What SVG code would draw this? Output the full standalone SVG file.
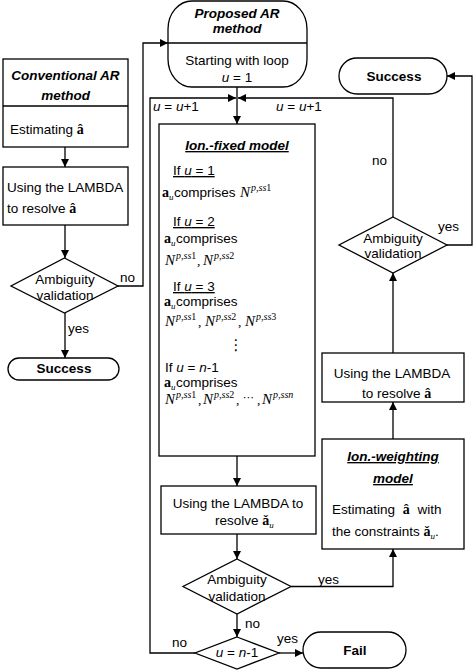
<svg xmlns="http://www.w3.org/2000/svg" width="474" height="670" viewBox="0 0 474 670">
<defs>
<marker id="ah" viewBox="0 0 10 10" refX="10" refY="5" markerWidth="9" markerHeight="8" markerUnits="userSpaceOnUse" orient="auto"><path d="M0,0 L10,5 L0,10 z" fill="#000"/></marker>
</defs>
<style>
.s{fill:#fff;stroke:#000;stroke-width:1.3}
.c{fill:none;stroke:#000;stroke-width:1.3;marker-end:url(#ah)}
text{font-family:"Liberation Sans",Arial,sans-serif;font-size:13.5px;fill:#000}
.b{font-weight:bold}
.bi{font-weight:bold;font-style:italic}
.u{text-decoration:underline}
.mid{text-anchor:middle}
.m{font-family:"Liberation Serif","Times New Roman",serif}
.mb{font-family:"Liberation Serif","Times New Roman",serif;font-weight:bold;font-size:14px}
.mi{font-family:"Liberation Serif","Times New Roman",serif;font-style:italic;font-size:15px}
.sup{font-family:"Liberation Serif","Times New Roman",serif;font-style:italic;font-size:10px}
.sub{font-family:"Liberation Serif","Times New Roman",serif;font-style:italic;font-size:9px}
</style>
<rect width="474" height="670" fill="#fff"/>

<g id="connectors">
<path class="c" d="M65,147 V167"/>
<path class="c" d="M65,225 V258"/>
<path class="c" d="M65,313 V358"/>
<path class="c" d="M118,286 H143 V43 H168"/>
<path class="c" d="M237,87 V124"/>
<path class="c" d="M195,653 H150 V98 H236"/>
<path class="c" d="M393,217 V98 H238"/>
<path class="c" d="M237,456 V486"/>
<path class="c" d="M237,534 V559"/>
<path class="c" d="M237,614 V637"/>
<path class="c" d="M279,653 H303"/>
<path class="c" d="M291,586.5 H393 V549"/>
<path class="c" d="M393,439 V402"/>
<path class="c" d="M393,353 V273"/>
<path class="c" d="M447,245 H472 V76 H447"/>
<text x="120" y="282">no</text>
<text x="68" y="333">yes</text>
<text x="153" y="111"><tspan font-style="italic">u</tspan> = <tspan font-style="italic">u</tspan>+1</text>
<text x="276" y="111"><tspan font-style="italic">u</tspan> = <tspan font-style="italic">u</tspan>+1</text>
<text x="372" y="165">no</text>
<text x="438" y="231">yes</text>
<text x="318" y="584">yes</text>
<text x="245" y="628">no</text>
<text x="172" y="647">no</text>
<text x="277" y="643">yes</text>
</g>

<g id="conventional">
<rect class="s" x="3" y="59" width="125" height="88"/>
<line x1="3" y1="106" x2="128" y2="106" stroke="#000" stroke-width="1.3"/>
<text class="bi mid" x="65.5" y="80">Conventional AR</text>
<text class="bi mid" x="65.5" y="100">method</text>
<text x="10" y="134">Estimating <tspan class="mb">â</tspan></text>
</g>

<g id="lambda1">
<rect class="s" x="3" y="167" width="125" height="58"/>
<text x="7" y="192">Using the LAMBDA</text>
<text x="7" y="213">to resolve <tspan class="mb">â</tspan></text>
</g>

<g id="valid1">
<polygon class="s" points="64.5,258 118,286 64.5,313 11,286"/>
<text class="mid" x="65" y="284">Ambiguity</text>
<text class="mid" x="65" y="300">validation</text>
</g>

<g id="success1">
<rect class="s" x="8" y="358" width="111" height="22" rx="11"/>
<text class="b mid" x="64" y="373">Success</text>
</g>

<g id="proposed">
<rect class="s" x="168" y="1" width="139" height="86" rx="24" ry="28"/>
<line x1="168" y1="43" x2="307" y2="43" stroke="#000" stroke-width="1.3"/>
<text class="bi mid" x="237" y="18">Proposed AR</text>
<text class="bi mid" x="237" y="33">method</text>
<text class="mid" x="237" y="65">Starting with loop</text>
<text class="mid" x="237" y="82"><tspan font-style="italic">u</tspan> = 1</text>
</g>

<g id="success2">
<rect class="s" x="339" y="58" width="108" height="36" rx="18"/>
<text class="b mid" x="394" y="81">Success</text>
</g>

<g id="fixed">
<rect class="s" x="159" y="124" width="156" height="332"/>
<text class="bi mid u" x="237" y="150">Ion.-fixed model</text>
<text class="u" x="173" y="175">If <tspan font-style="italic">u</tspan> = 1</text>
<text x="162" y="197"><tspan class="mb">a</tspan><tspan class="sub" dy="3">u</tspan></text>
<text x="174" y="197">comprises</text>
<text class="mi" x="240" y="197">N</text><text class="sup" x="251" y="191">p,ss<tspan font-style="normal">1</tspan></text>

<text class="u" x="173" y="226">If <tspan font-style="italic">u</tspan> = 2</text>
<text x="164" y="243"><tspan class="mb">a</tspan><tspan class="sub" dy="3">u</tspan></text>
<text x="176" y="243">comprises</text>
<text class="mi" x="165" y="265">N</text><text class="sup" x="176" y="259">p,ss<tspan font-style="normal">1</tspan></text>
<text class="m" x="197" y="265">,</text>
<text class="mi" x="203" y="265">N</text><text class="sup" x="214" y="259">p,ss<tspan font-style="normal">2</tspan></text>

<text class="u" x="173" y="291">If <tspan font-style="italic">u</tspan> = 3</text>
<text x="164" y="306"><tspan class="mb">a</tspan><tspan class="sub" dy="3">u</tspan></text>
<text x="176" y="306">comprises</text>
<text class="mi" x="165" y="326">N</text><text class="sup" x="176" y="320">p,ss<tspan font-style="normal">1</tspan></text>
<text class="m" x="198" y="326">,</text>
<text class="mi" x="205" y="326">N</text><text class="sup" x="216" y="320">p,ss<tspan font-style="normal">2</tspan></text>
<text class="m" x="238" y="326">,</text>
<text class="mi" x="245" y="326">N</text><text class="sup" x="256" y="320">p,ss<tspan font-style="normal">3</tspan></text>

<text class="mid" x="236" y="350" style="font-family:'DejaVu Sans',sans-serif;font-size:15px">⋮</text>

<text x="165" y="372">If <tspan font-style="italic">u</tspan> = <tspan font-style="italic">n</tspan>-1</text>
<text x="164" y="387"><tspan class="mb">a</tspan><tspan class="sub" dy="3">u</tspan></text>
<text x="176" y="387">comprises</text>
<text class="mi" x="165" y="404">N</text><text class="sup" x="176" y="398">p,ss<tspan font-style="normal">1</tspan></text>
<text class="m" x="198" y="404">,</text>
<text class="mi" x="203" y="404">N</text><text class="sup" x="214" y="398">p,ss<tspan font-style="normal">2</tspan></text>
<text class="m" x="236" y="404">,</text>
<text x="243" y="401" style="font-family:'DejaVu Sans',sans-serif;font-size:11px">⋯</text>
<text class="m" x="257" y="404">,</text>
<text class="mi" x="262" y="404">N</text><text class="sup" x="273" y="398">p,ssn</text>
</g>

<g id="lambda2">
<rect class="s" x="161" y="486" width="155" height="48"/>
<text class="mid" x="238" y="508">Using the LAMBDA to</text>
<text x="215" y="525">resolve <tspan class="mb">ǎ</tspan><tspan class="sub" dy="3">u</tspan></text>
</g>

<g id="valid2">
<polygon class="s" points="237,559 291,586.5 237,614 183,586.5"/>
<text class="mid" x="237" y="584">Ambiguity</text>
<text class="mid" x="237" y="601">validation</text>
</g>

<g id="check">
<polygon class="s" points="237,637 279,653 237,669 195,653"/>
<text class="mid" x="237" y="657"><tspan font-style="italic">u</tspan> = <tspan font-style="italic">n</tspan>-1</text>
</g>

<g id="fail">
<rect class="s" x="303" y="632" width="103" height="36" rx="18"/>
<text class="b mid" x="355" y="655">Fail</text>
</g>

<g id="weighting">
<rect class="s" x="322" y="439" width="142" height="110"/>
<text class="bi mid u" x="393" y="461">Ion.-weighting</text>
<text class="bi mid u" x="393" y="483">model</text>
<text x="332" y="514">Estimating <tspan class="mb" dx="4">â</tspan><tspan dx="4"> with</tspan></text>
<text x="332" y="536">the constraints <tspan class="mb">ǎ</tspan><tspan class="sub" dy="3">u</tspan><tspan dy="-3">.</tspan></text>
</g>

<g id="lambda3">
<rect class="s" x="322" y="353" width="142" height="49"/>
<text class="mid" x="392" y="378">Using the LAMBDA</text>
<text x="362" y="398">to resolve <tspan class="mb">â</tspan></text>
</g>

<g id="valid3">
<polygon class="s" points="393,217 447,245 393,273 339,245"/>
<text class="mid" x="393" y="243">Ambiguity</text>
<text class="mid" x="393" y="258">validation</text>
</g>
</svg>
